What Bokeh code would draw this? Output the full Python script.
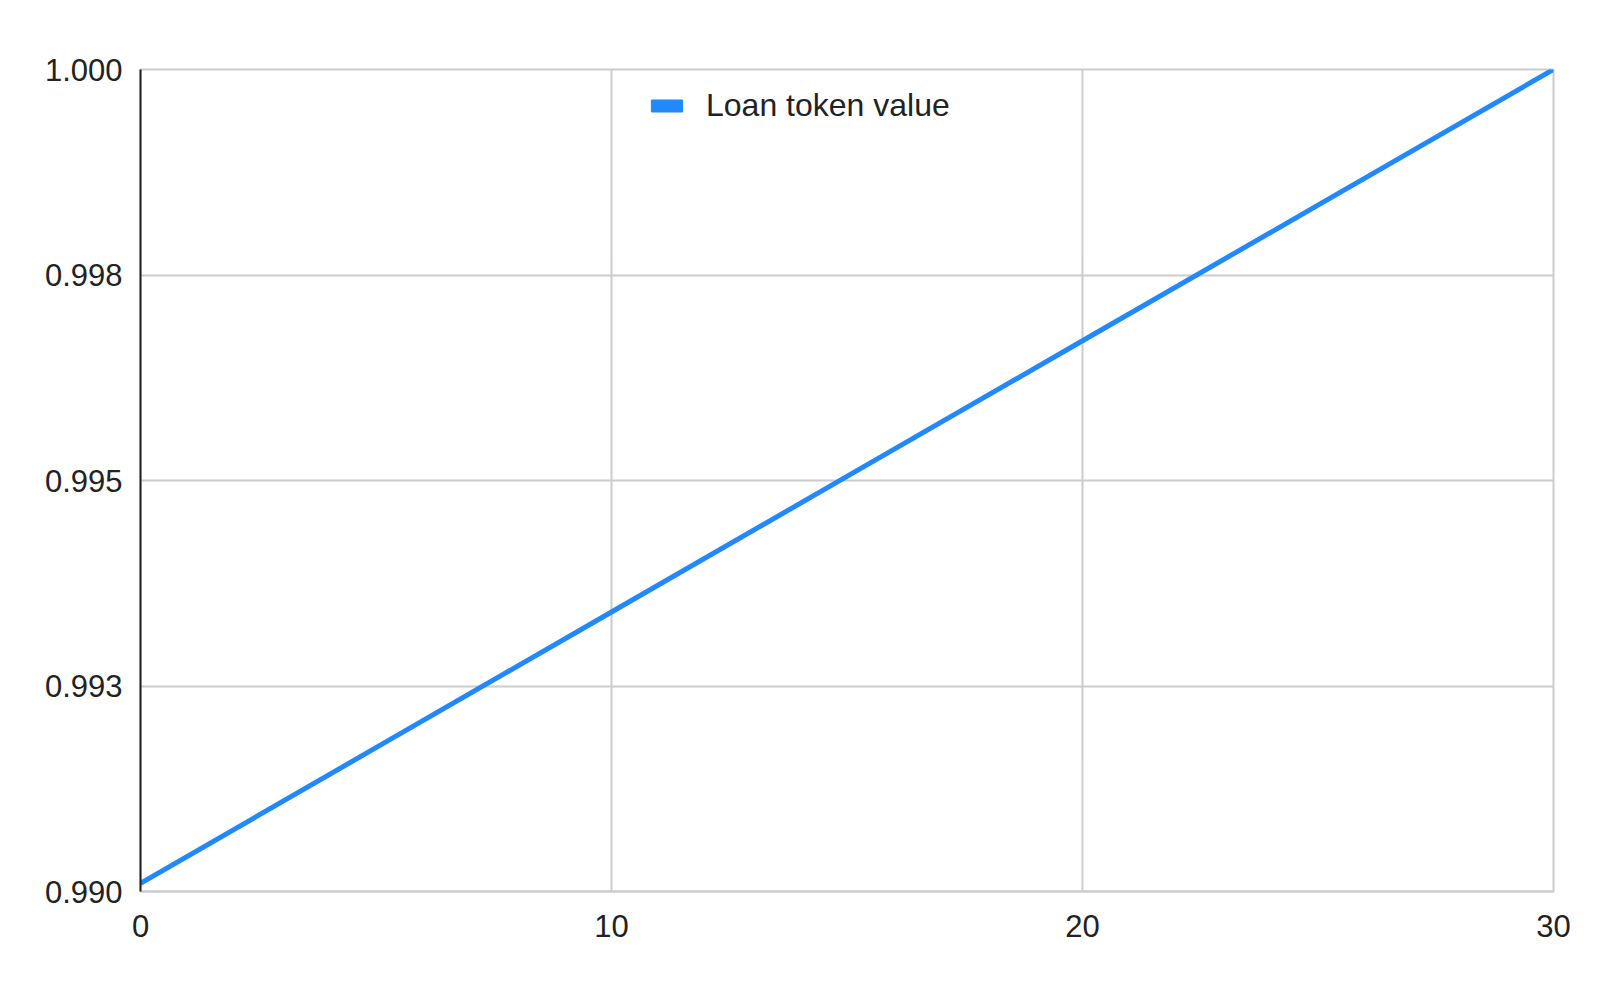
from bokeh.plotting import figure
from bokeh.models import Range1d, FixedTicker, Legend, LegendItem, ColumnDataSource
from bokeh.embed import file_html
from bokeh.resources import INLINE

# ---- data ----
days = [0, 5, 10, 15, 20, 25, 30]
loan_token_value = [0.9901, 0.99175, 0.9934, 0.99505, 0.9967, 0.99835, 1.0000]
series_label = "Loan token value"

x_ticks = [0, 10, 20, 30]
y_ticks = [0.99, 0.9925, 0.995, 0.9975, 1.0]
y_tick_labels = ["0.990", "0.993", "0.995", "0.998", "1.000"]

FONT = "Liberation Sans"
BLUE = "#2189fb"
GRID = "#cccccc"

p = figure(width=1583, height=976, output_backend="svg", toolbar_location=None,
           x_range=Range1d(0, 30), y_range=Range1d(0.99, 1.0))
p.min_border_left = 140
p.min_border_right = 30
p.min_border_top = 69
p.min_border_bottom = 85
p.background_fill_color = "white"
p.border_fill_color = "white"
p.outline_line_color = GRID
p.outline_line_width = 2

src = ColumnDataSource(dict(x=days, y=loan_token_value))
p.line("x", "y", source=src, line_color=BLUE, line_width=5)

# legend swatch renderer (draws nothing in the plot, only the legend glyph)
nan = float("nan")
dummy = p.quad(left=[nan], right=[nan], top=[nan], bottom=[nan],
               fill_color=BLUE, line_color=BLUE)
legend = Legend(items=[LegendItem(label=series_label, renderers=[dummy])],
                location=(507, 767), orientation="horizontal")
legend.glyph_width = 39
legend.glyph_height = 15
legend.label_standoff = 20
legend.padding = 0
legend.margin = 0
legend.spacing = 0
legend.label_text_font = FONT
legend.label_text_font_size = "32px"
legend.label_text_color = "#222222"
legend.background_fill_alpha = 0
legend.border_line_color = None
p.add_layout(legend, "center")

# axes
p.xaxis.ticker = FixedTicker(ticks=x_ticks)
p.yaxis.ticker = FixedTicker(ticks=y_ticks)
p.yaxis.major_label_overrides = {t: l for t, l in zip(y_ticks, y_tick_labels)}

for ax in (p.xaxis[0], p.yaxis[0]):
    ax.major_tick_line_color = None
    ax.minor_tick_line_color = None
    ax.major_tick_out = 0
    ax.major_tick_in = 0
    ax.major_label_text_font = FONT
    ax.major_label_text_font_size = "31px"
    ax.major_label_text_color = "#222222"

p.xaxis.axis_line_color = GRID
p.xaxis.axis_line_width = 2
p.xaxis.major_label_standoff = 23
p.yaxis.axis_line_color = "#222222"
p.yaxis.axis_line_width = 2
p.yaxis.major_label_standoff = 18

p.xgrid.ticker = FixedTicker(ticks=x_ticks)
p.ygrid.ticker = FixedTicker(ticks=y_ticks)
p.grid.grid_line_color = GRID
p.grid.grid_line_width = 2

open("out.html", "w").write(file_html(p, INLINE))
